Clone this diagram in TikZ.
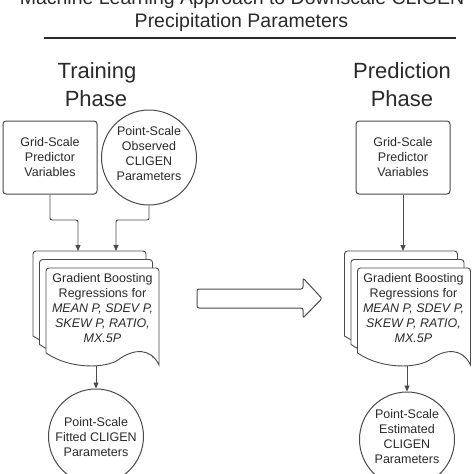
\documentclass[tikz,border=0pt]{standalone}
\usepackage{fontspec}
\setmainfont{Liberation Sans}
\usetikzlibrary{arrows.meta}
\definecolor{ln}{HTML}{4A4A4A}
\definecolor{tx}{HTML}{2A2A2A}
\tikzset{
  lbl/.style={text=tx, align=center, font=\fontsize{12.5}{15}\selectfont, inner sep=0pt},
  gbox/.style={lbl, draw=ln, line width=1pt, rounded corners=3pt, minimum width=94pt, minimum height=73pt, fill=white},
  circ/.style={draw=ln, line width=1pt, circle, minimum size=95pt, inner sep=0pt, fill=white},
  conn/.style={draw=ln, line width=0.9pt, rounded corners=2pt, -{Triangle[length=6pt,width=5pt]}},
  docp/.style={draw=ln, line width=0.9pt, fill=white},
  ttl/.style={text=tx, font=\fontsize{19.5}{22.5}\selectfont, inner sep=0pt, anchor=base},
  phs/.style={text=tx, font=\fontsize{22}{28}\selectfont, inner sep=0pt, anchor=base},
  bigarrow/.style={draw=ln, line width=1pt, fill=white, rounded corners=2pt}
}
\newcommand\docstack[2]{%
  \foreach \dx/\dy in {-13/-17,-6.5/-8.5,0/0}{%
    \begin{scope}[shift={(#1+\dx,#2+\dy)}]
      \draw[docp] (0,85) [rounded corners=3pt] -- (0,0) -- (113,0) [sharp corners] -- (113,97)
        .. controls (105,80) and (88,80) .. (72,92)
        .. controls (60,100) and (25,102) .. (0,85) -- cycle;
    \end{scope}}%
}
\begin{document}
\begin{tikzpicture}[x=1pt,y=-1pt]
\useasboundingbox (0,0) rectangle (474,474);
\clip (0,0) rectangle (474,474);
\fill[white] (0,0) rectangle (474,474);

% title
\node[ttl] (t1) at (242,4.5) {Machine Learning Approach to Downscale CLIGEN};
\node[ttl] (t2) at (241.5,27) {Precipitation Parameters};
\draw[tx, line width=1.3pt] (44,38) -- (456,38);

% phase headings
\node[phs] (tr1) at (97,78) {Training};
\node[phs] (tr2) at (96,106) {Phase};
\node[phs] (pr1) at (402,78) {Prediction};
\node[phs] (pr2) at (402,106) {Phase};

% training inputs
\node[gbox] (gridL) at (50,157.5) {Grid-Scale\\Predictor\\Variables};
\node[circ] (obs) at (149,157.5) {};
\node[lbl] (obsT) at (149,154) {Point-Scale\\Observed\\CLIGEN\\Parameters};

% prediction input
\node[gbox] (gridR) at (403,157.5) {Grid-Scale\\Predictor\\Variables};

% document stacks
\docstack{46}{268}
\docstack{357.5}{268}
\node[lbl] (docL) at (102.5,308) {Gradient Boosting\\Regressions for\\\textit{MEAN P, SDEV P,}\\\textit{SKEW P, RATIO,}\\\textit{MX.5P}};
\node[lbl] (docR) at (413.5,308) {Gradient Boosting\\Regressions for\\\textit{MEAN P, SDEV P,}\\\textit{SKEW P, RATIO,}\\\textit{MX.5P}};

\coordinate (inL1) at (78,251);
\coordinate (inL2) at (116,251);
\coordinate (inR) at (403,251);
\coordinate (outL) at (96,366);
\coordinate (outR) at (407,366);

% outputs
\node[circ] (fit) at (96,436.5) {};
\node[lbl] (fitT) at (96,437) {Point-Scale\\Fitted CLIGEN\\Parameters};
\node[circ] (est) at (407,439.5) {};
\node[lbl] (estT) at (407,436.5) {Point-Scale\\Estimated\\CLIGEN\\Parameters};

% connectors
\draw[conn] (gridL.south) -- (50,220) -| (inL1);
\draw[conn] (obs.south) -- (149,220) -| (inL2);
\draw[conn] (gridR.south) -- (inR);
\draw[conn] (outL) -- (fit.north);
\draw[conn] (outR) -- (est.north);

% big hollow arrow
\draw[bigarrow] (303,289) -- (197,289) -- (197,308) -- (303,308) -- (303,318) -- (322,298.5) -- (303,278) -- cycle;
\end{tikzpicture}
\end{document}
